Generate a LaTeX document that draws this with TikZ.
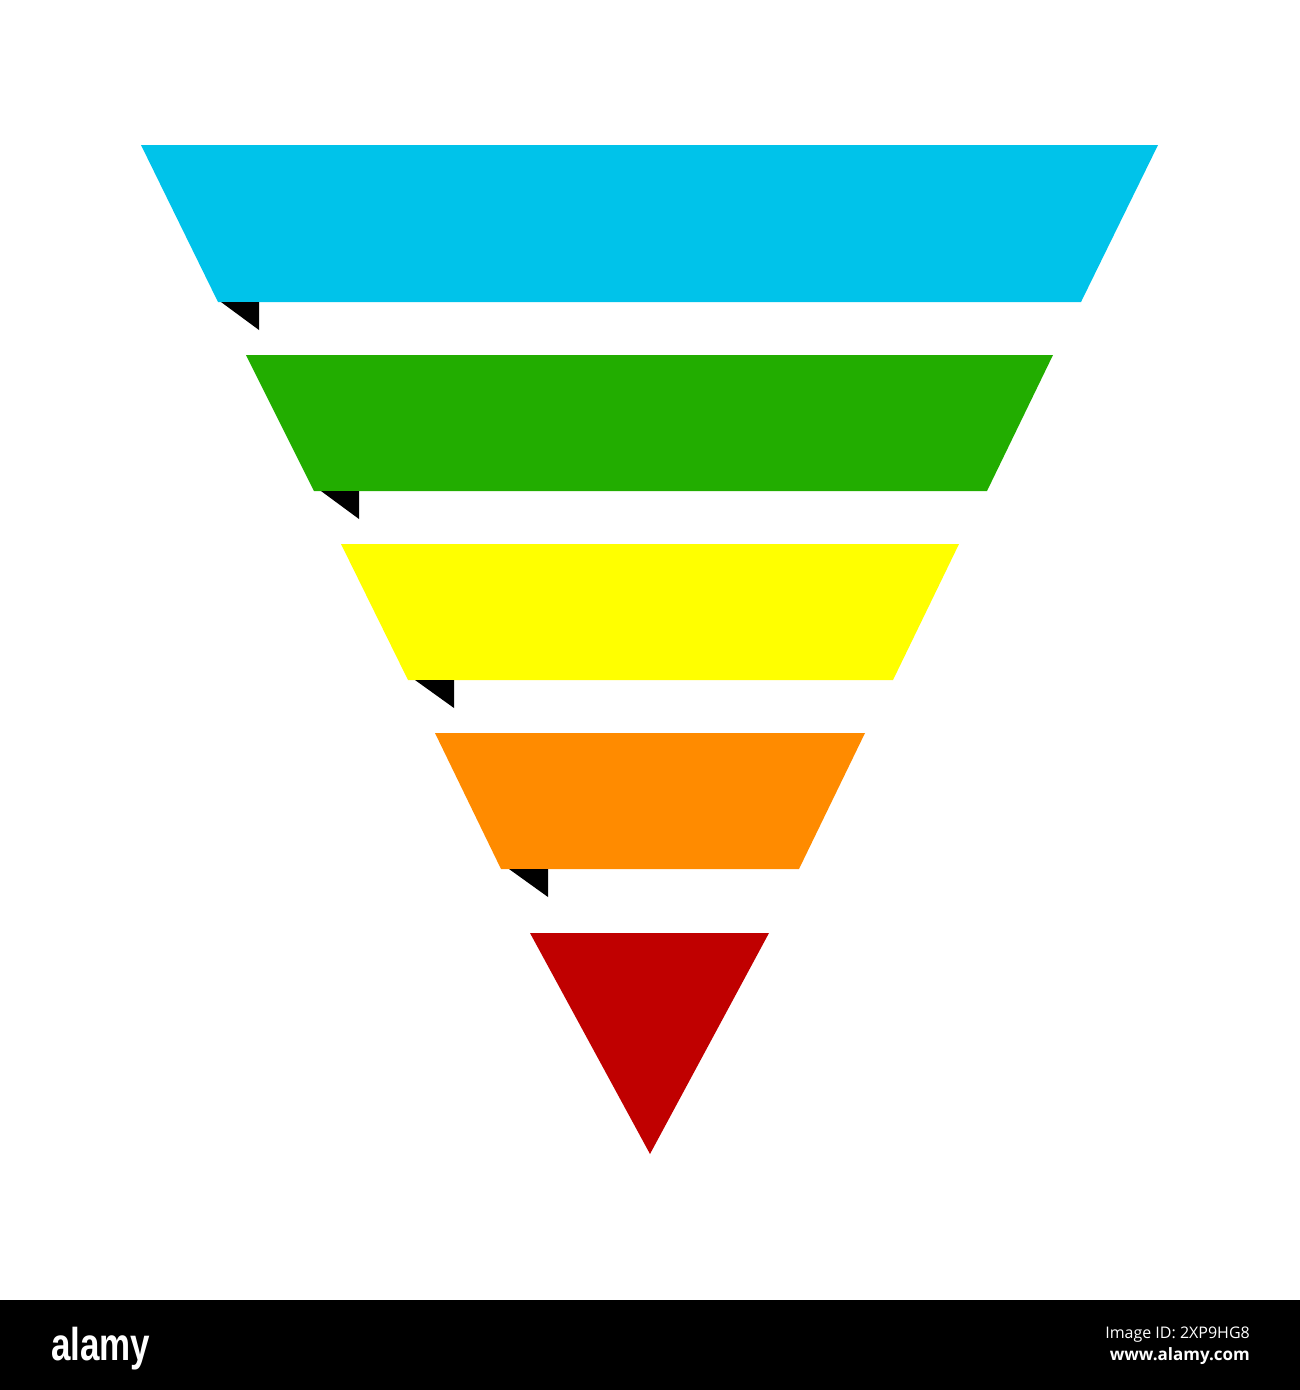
\documentclass[tikz,border=0pt]{standalone}
\usepackage{fontspec}
\setmainfont{Liberation Sans}
\newfontfamily\opensans{Open Sans}
\definecolor{fblue}{RGB}{0,195,234}
\definecolor{fgreen}{RGB}{34,173,0}
\definecolor{fyellow}{RGB}{255,255,0}
\definecolor{forange}{RGB}{255,139,0}
\definecolor{fred}{RGB}{192,0,0}
\tikzset{tab/.style={fill=black}}
\begin{document}
\begin{tikzpicture}[x=1pt,y=-1pt]
\useasboundingbox (0,0) rectangle (1300,1390);
% funnel layers
\fill[fblue]   (141,145) -- (1158,145) -- (1081,302) -- (218,302) -- cycle;
\fill[fgreen]  (246,355) -- (1053,355) -- (987,491) -- (314,491) -- cycle;
\fill[fyellow] (341,544) -- (959,544) -- (893,680) -- (408,680) -- cycle;
\fill[forange] (435,733) -- (865,733) -- (799,869) -- (501,869) -- cycle;
\fill[fred]    (530,933) -- (769,933) -- (650,1154) -- cycle;
% folded tabs
\fill[tab] (221,302) -- (259,302) -- (259,330) -- cycle;
\fill[tab] (321,491) -- (359,491) -- (359,519) -- cycle;
\fill[tab] (415,680) -- (454,680) -- (454,708) -- cycle;
\fill[tab] (509,869) -- (548,869) -- (548,897) -- cycle;
% bottom bar
\fill[black] (0,1300) rectangle (1300,1390);
\node[anchor=base west, inner sep=0pt, text=white, font=\bfseries\fontsize{46}{46}\selectfont, xscale=0.76] (logo) at (51,1360) {alamy};
\node[anchor=base east, inner sep=0pt, text=white, font=\opensans\fontsize{16}{16}\selectfont] (imgid) at (1250,1338) {Image ID: 2XP9HG8};
\node[anchor=base east, inner sep=0pt, text=white, font=\opensans\bfseries\fontsize{17}{17}\selectfont] (web) at (1250,1360) {www.alamy.com};
\end{tikzpicture}
\end{document}
